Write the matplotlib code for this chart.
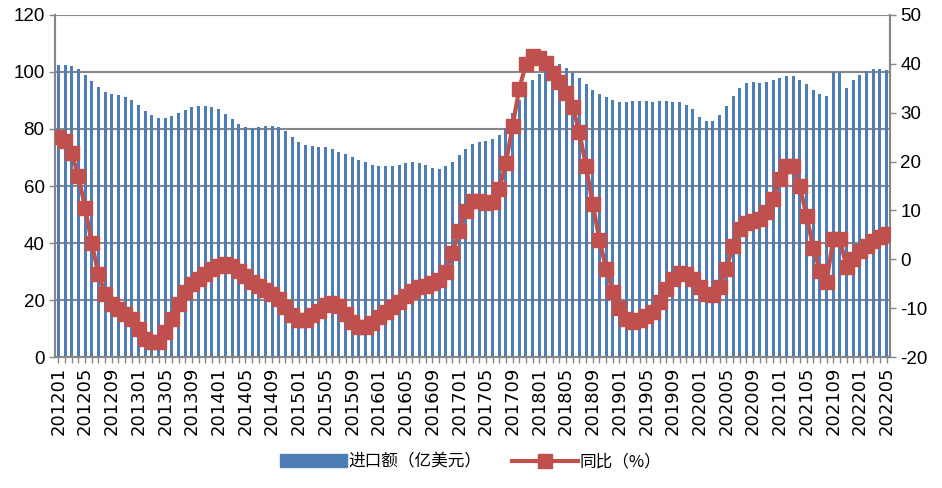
import numpy as np
import matplotlib
matplotlib.use('Agg')
import matplotlib.pyplot as plt
from matplotlib.patches import Patch
from matplotlib.lines import Line2D

plt.rcParams['axes.unicode_minus'] = False

# months 201201 .. 202205
months = []
for y in range(2012, 2023):
	for m in range(1, 13):
		if y == 2022 and m > 5:
			break
		months.append('%d%02d' % (y, m))

# 进口额（亿美元）
imports = [102.3, 102.3, 102.0, 101.0, 98.8, 96.7, 94.7, 92.9, 92.2, 91.9,
	91.2, 90.1, 88.4, 86.3, 84.9, 83.8, 83.8, 84.5, 85.6, 86.6,
	87.8, 88.0, 88.0, 87.8, 87.0, 85.2, 83.5, 81.7, 80.7, 80.5,
	80.7, 81.0, 81.0, 80.6, 79.3, 77.2, 75.5, 74.4, 73.9, 73.7,
	73.6, 72.9, 72.1, 71.3, 70.1, 69.0, 68.3, 67.4, 67.1, 66.9,
	66.9, 67.4, 68.0, 68.3, 68.0, 67.4, 66.3, 65.9, 66.9, 68.4,
	70.9, 72.9, 74.6, 75.5, 75.7, 76.4, 77.9, 80.5, 85.5, 90.1,
	93.8, 97.1, 99.4, 100.8, 102.0, 102.7, 101.4, 99.7, 98.0, 95.9,
	93.6, 92.3, 91.2, 90.3, 89.6, 89.4, 89.8, 89.8, 89.8, 89.4,
	89.7, 89.8, 89.4, 89.3, 88.4, 86.9, 84.3, 82.8, 82.8, 84.8,
	88.0, 91.5, 94.3, 96.2, 96.5, 96.2, 96.5, 97.1, 98.0, 98.7,
	98.5, 97.3, 95.7, 93.8, 92.2, 91.5, 99.9, 99.9, 94.5, 97.1,
	99.1, 100.5, 101.2, 101.2, 100.6]

# 同比（%）
yoy = [25.1, 24.2, 21.7, 17.0, 10.6, 3.3, -3.0, -7.1, -9.1, -10.1,
	-11.2, -12.2, -14.2, -16.3, -16.9, -16.9, -14.9, -12.2, -9.1, -6.7,
	-5.0, -4.0, -3.0, -2.0, -1.3, -1.0, -1.3, -2.3, -3.5, -4.6,
	-5.4, -6.2, -7.1, -8.1, -9.8, -11.5, -12.5, -12.5, -11.5, -10.5,
	-9.3, -8.9, -9.5, -11.2, -12.9, -13.9, -13.9, -13.0, -11.8, -10.8,
	-9.8, -8.8, -7.6, -6.4, -5.7, -5.4, -4.8, -4.2, -2.5, 1.3,
	5.8, 9.9, 11.9, 11.9, 11.6, 11.7, 14.3, 19.7, 27.3, 34.9,
	40.0, 41.6, 41.2, 40.2, 38.1, 36.3, 34.0, 31.2, 26.0, 19.0,
	11.3, 4.0, -1.9, -6.6, -10.0, -12.2, -12.9, -12.5, -11.6, -10.8,
	-8.8, -6.1, -4.0, -2.8, -3.0, -4.0, -5.7, -7.1, -7.4, -5.7,
	-1.9, 2.8, 6.2, 7.5, 7.9, 8.2, 9.6, 12.3, 16.4, 19.1,
	19.1, 15.0, 8.9, 2.4, -2.3, -4.6, 4.1, 4.1, -1.6, 0.0,
	1.7, 2.8, 3.8, 4.5, 5.1]

bar_color = '#4F7DB5'
line_color = '#C0504D'
grid_color = '#878787'

x = np.arange(len(months))

fig = plt.figure(figsize=[9.42, 4.88], dpi=100)
ax = fig.add_axes([0.0584, 0.2684, 0.8864, 0.7009])
ax2 = ax.twinx()

ax.set_axisbelow(True)
ax.bar(x, imports, width=0.45, color=bar_color, zorder=2)
ax2.plot(x, yoy, color=line_color, lw=3, marker='s', markersize=10, zorder=3)

ax.set_xlim(-0.5, len(months) - 0.5)
ax.set_ylim(0, 120)
ax.set_yticks(np.arange(0, 121, 20))
ax2.set_ylim(-20, 50)
ax2.set_yticks(np.arange(-20, 51, 10))

ax.yaxis.grid(True, color=grid_color, lw=1.5)

ax.set_xticks(x)
ax.set_xticklabels([m if i % 4 == 0 else '' for i, m in enumerate(months)],
	rotation=90, fontsize=13, family='DejaVu Sans')

for a in (ax, ax2):
	for s in a.spines.values():
		s.set_color(grid_color)
		s.set_linewidth(1.5)
	a.spines['top'].set_visible(False)
	a.tick_params(axis='both', colors=grid_color, length=4, width=1)
	a.tick_params(axis='y', labelcolor='black', labelsize=13.5)
ax.tick_params(axis='x', labelcolor='black', pad=3)
for lab in ax.get_yticklabels() + ax2.get_yticklabels():
	lab.set_family('Liberation Sans')

handles = [Patch(facecolor=bar_color, edgecolor=bar_color),
	Line2D([0], [0], color=line_color, lw=3, marker='s', markersize=10)]
fig.legend(handles, ['进口额（亿美元）', '同比（%）'], loc='center',
	bbox_to_anchor=(0.5, 0.053), ncol=2, frameon=False,
	prop={'family': ['Noto Sans CJK SC', 'DejaVu Sans'], 'size': 12},
	handlelength=4, handleheight=0.8, handletextpad=0.1, columnspacing=1.8)

plt.savefig('out.png', dpi=100)
